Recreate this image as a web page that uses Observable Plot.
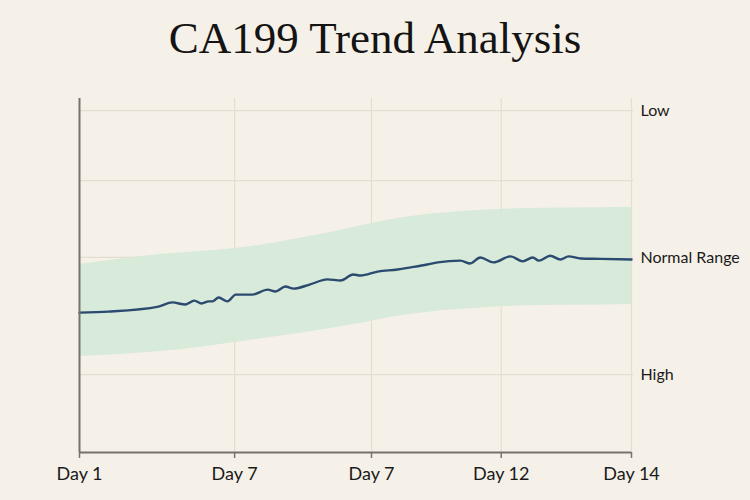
<!DOCTYPE html>
<html>
<head>
<meta charset="utf-8">
<script src="https://cdn.jsdelivr.net/npm/d3@7"></script>
<script src="https://cdn.jsdelivr.net/npm/@observablehq/plot@0.6"></script>
<style>
  html, body { margin: 0; padding: 0; background: #f6f1e8; }
  #wrap { width: 750px; height: 500px; overflow: hidden; }
  #title {
    height: 80px; box-sizing: border-box; padding-top: 12px;
    text-align: center; font-family: "Liberation Serif", "DejaVu Serif", serif;
    font-size: 45px; color: #141414;
  }
  svg { display: block; }
</style>
</head>
<body>
<div id="wrap">
  <div id="title">CA199 Trend Analysis</div>
  <div id="chart"></div>
</div>
<script>
// Timeline position (0 = first day, 100 = last day) and the x-axis labels.
const tickPos = [0, 28.1, 52.9, 76.4, 100];
const tickLabels = ["Day 1", "Day 7", "Day 7", "Day 12", "Day 14"];

// Level scale (0 at top, 100 at bottom) with the right-hand category labels.
const levelTicks = [3.4, 23.2, 44.9, 78.0];
const levelLabels = ["Low", "", "Normal Range", "High"];

// Normal-range band: upper and lower edges along the timeline.
const bandT     = [0, 14.7, 28.1, 40.0, 50.9, 61.2, 76.6, 89.0, 100];
const bandUpper = [46.9, 44.1, 42.4, 39.5, 36.0, 33.1, 31.3, 30.9, 30.7];
const bandLower = [72.9, 71.5, 68.9, 66.3, 63.5, 60.7, 58.8, 58.4, 58.2];

// CA199 trend readings.
const seriesT = [0, 5.3, 14.3, 16.8, 19.2, 20.8, 22.1, 23.4, 24.1, 25.2, 26.8, 28.3, 31.3, 34.1, 35.5,
  37.3, 38.8, 41.8, 44.9, 47.3, 49.6, 50.9, 54.0, 57.6, 60.0, 63.0, 64.9, 69.0, 70.8, 72.6, 75.0,
  78.1, 80.3, 82.1, 83.2, 85.3, 87.1, 88.6, 90.8, 94.4, 100];
const seriesV = [60.5, 60.2, 58.8, 57.6, 58.2, 57.1, 57.9, 57.3, 57.3, 56.2, 57.3, 55.4, 55.4, 54.0, 54.5,
  53.1, 53.7, 52.5, 51.1, 51.4, 49.7, 50.0, 48.9, 48.3, 47.7, 46.9, 46.3, 45.8, 46.6, 44.9, 46.3,
  44.6, 46.0, 44.9, 45.8, 44.4, 45.5, 44.6, 45.2, 45.3, 45.5];

const band = bandT.map((t, i) => ({t, upper: bandUpper[i], lower: bandLower[i]}));
const series = seriesT.map((t, i) => ({t, v: seriesV[i]}));

const labelFont = "Lato, 'Open Sans', sans-serif";

const chart = Plot.plot({
  width: 750,
  height: 420,
  marginTop: 18,
  marginBottom: 48,
  marginLeft: 79,
  marginRight: 119,
  style: {background: "transparent", fontFamily: labelFont, color: "#1a1a1a"},
  x: {domain: [0, 100]},
  y: {domain: [0, 100], reverse: true},
  marks: [
    Plot.ruleY(levelTicks, {x1: 0, x2: 100.4, stroke: "#e3ddd2", strokeWidth: 1.2}),
    Plot.gridX(tickPos.slice(1), {stroke: "#e3ddd2", strokeOpacity: 1, strokeWidth: 1.2}),
    Plot.areaY(band, {x: "t", y1: "upper", y2: "lower", fill: "#d6e9d8", fillOpacity: 0.95, curve: "natural"}),
    Plot.line(series, {x: "t", y: "v", stroke: "#2b4a70", strokeWidth: 2.4, curve: "monotone-x"}),
    Plot.ruleX([0], {stroke: "#75736b", strokeWidth: 2}),
    Plot.ruleY([100], {stroke: "#75736b", strokeWidth: 2}),
    Plot.axisX(tickPos, {
      tickFormat: (d, i) => tickLabels[i],
      tickSize: 6, tickPadding: 9, stroke: "#75736b", strokeWidth: 1.5,
      fontSize: 18, fill: "#1a1a1a", label: null
    }),
    Plot.axisY(levelTicks, {
      anchor: "right",
      tickFormat: (d, i) => levelLabels[i],
      tickSize: 0, tickPadding: 9, fontSize: 16, fill: "#1a1a1a", label: null
    })
  ]
});

document.getElementById("chart").appendChild(chart);
</script>
</body>
</html>
